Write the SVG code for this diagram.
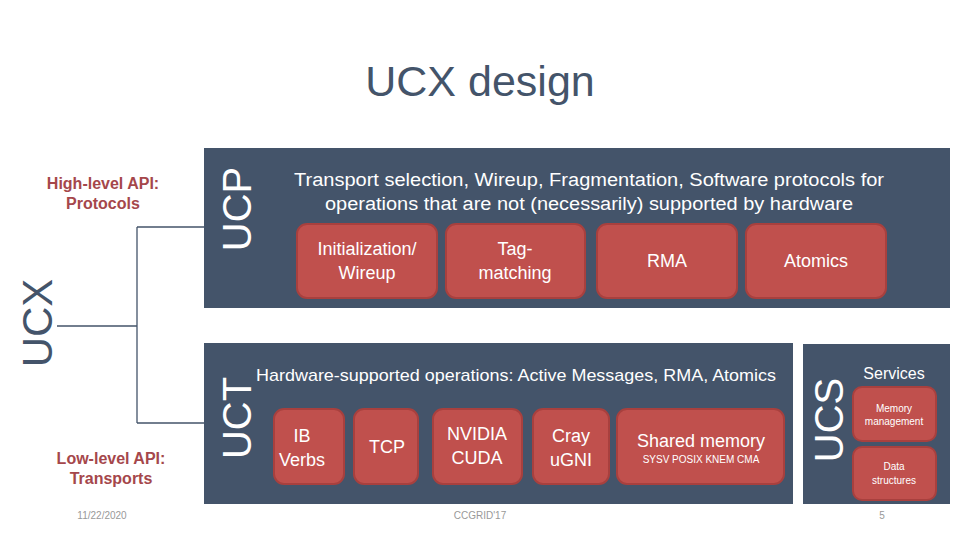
<svg xmlns="http://www.w3.org/2000/svg" width="960" height="540" viewBox="0 0 960 540">
<style>
.p{fill:#44546a}
.b{fill:#c0504d;stroke:#a8403e;stroke-width:2}
.w{fill:#fff;font-family:"Liberation Sans",Arial,sans-serif;text-anchor:middle}
.r{fill:#a5474b;font-family:"Liberation Sans",Arial,sans-serif;font-weight:bold;font-size:16px;text-anchor:middle}
.v{fill:#fff;font-family:"Liberation Sans",Arial,sans-serif;font-size:40px;text-anchor:middle}
.g{fill:#999;font-family:"Liberation Sans",Arial,sans-serif;font-size:10px;text-anchor:middle}
.l{stroke:#44546a;stroke-width:1.3;fill:none}
</style>
<rect width="960" height="540" fill="#fff"/>
<text x="480" y="96" font-family="Liberation Sans,Arial,sans-serif" font-size="43" fill="#44546a" text-anchor="middle">UCX design</text>
<g id="connectors">
<path class="l" d="M57 326H137M137 227V423M137 227H204M137 423H204"/>
</g>
<g id="ucx"><text transform="translate(52 323) rotate(-90)" font-family="Liberation Sans,Arial,sans-serif" font-size="42" fill="#44546a" text-anchor="middle">UCX</text></g>
<g id="hl"><text class="r" x="103" y="189">High-level API:</text><text class="r" x="103" y="209">Protocols</text></g>
<g id="ll"><text class="r" x="111" y="464">Low-level API:</text><text class="r" x="111" y="484">Transports</text></g>
<g id="ucp">
<rect class="p" x="204" y="148" width="746" height="160"/>
<text class="v" transform="translate(251 209) rotate(-90)" font-size="42">UCP</text>
<text class="w" x="589" y="186" font-size="18" textLength="590" lengthAdjust="spacingAndGlyphs">Transport selection, Wireup, Fragmentation, Software protocols for</text>
<text class="w" x="589" y="210" font-size="18" textLength="528" lengthAdjust="spacingAndGlyphs">operations that are not (necessarily) supported by hardware</text>
</g>
<g id="init"><rect class="b" x="297" y="224" width="140" height="74" rx="10"/><text class="w" x="367" y="255" font-size="18">Initialization/</text><text class="w" x="367" y="279" font-size="18">Wireup</text></g>
<g id="tag"><rect class="b" x="446" y="224" width="139" height="74" rx="10"/><text class="w" x="515" y="255" font-size="18">Tag-</text><text class="w" x="515" y="279" font-size="18">matching</text></g>
<g id="rma"><rect class="b" x="597" y="224" width="140" height="74" rx="10"/><text class="w" x="667" y="267" font-size="18">RMA</text></g>
<g id="atomics"><rect class="b" x="746" y="224" width="140" height="74" rx="10"/><text class="w" x="816" y="267" font-size="18">Atomics</text></g>
<g id="uct">
<rect class="p" x="204" y="343" width="589" height="161"/>
<text class="v" transform="translate(251 418) rotate(-90)" font-size="42">UCT</text>
<text class="w" x="516" y="381" font-size="17" textLength="520" lengthAdjust="spacingAndGlyphs">Hardware-supported operations: Active Messages, RMA, Atomics</text>
</g>
<g id="ib"><rect class="b" x="274" y="409" width="70" height="75" rx="10"/><text class="w" x="302" y="442" font-size="18">IB</text><text class="w" x="302" y="466" font-size="18">Verbs</text></g>
<g id="tcp"><rect class="b" x="354" y="409" width="64" height="75" rx="10"/><text class="w" x="387" y="453" font-size="18">TCP</text></g>
<g id="cuda"><rect class="b" x="433" y="409" width="89" height="75" rx="10"/><text class="w" x="477" y="440" font-size="18">NVIDIA</text><text class="w" x="477" y="464" font-size="18">CUDA</text></g>
<g id="cray"><rect class="b" x="533" y="409" width="76" height="75" rx="10"/><text class="w" x="571" y="442" font-size="18">Cray</text><text class="w" x="571" y="466" font-size="18">uGNI</text></g>
<g id="shm"><rect class="b" x="617" y="409" width="167" height="75" rx="10"/><text class="w" x="701" y="447" font-size="18">Shared memory</text><text class="w" x="701" y="463" font-size="10">SYSV POSIX KNEM CMA</text></g>
<g id="ucs">
<rect class="p" x="803" y="344" width="147" height="160"/>
<text class="v" transform="translate(843 420) rotate(-90)" font-size="30">UCS</text>
<text class="w" x="894" y="379" font-size="16">Services</text>
</g>
<g id="mem"><rect class="b" x="853" y="387" width="83" height="54" rx="9"/><text class="w" x="894" y="412" font-size="10">Memory</text><text class="w" x="894" y="425" font-size="10">management</text></g>
<g id="data"><rect class="b" x="853" y="447" width="83" height="53" rx="9"/><text class="w" x="894" y="470" font-size="10">Data</text><text class="w" x="894" y="484" font-size="10">structures</text></g>
<text class="g" x="102" y="519">11/22/2020</text>
<text class="g" x="480" y="519">CCGRID'17</text>
<text class="g" x="882" y="519">5</text>
</svg>
